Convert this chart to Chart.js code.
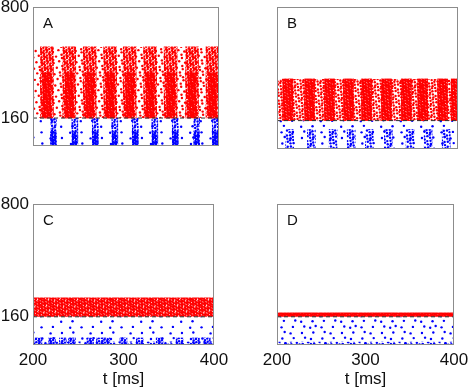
<!DOCTYPE html>
<html>
<head>
<meta charset="utf-8">
<script src="https://cdn.jsdelivr.net/npm/chart.js@4.4.0/dist/chart.umd.min.js"></script>
<style>
  html, body { margin: 0; padding: 0; background: #fff; width: 474px; height: 389px; overflow: hidden; position: relative; }
  canvas { position: absolute; }
</style>
</head>
<body>
<canvas id="cA" width="240" height="170" style="left:0;top:-10px"></canvas>
<canvas id="cB" width="244" height="170" style="left:240px;top:-10px"></canvas>
<canvas id="cC" width="240" height="205" style="left:0;top:185px"></canvas>
<canvas id="cD" width="244" height="205" style="left:240px;top:185px"></canvas>
<script>
// axes
const xTicks = [200, 300, 400];
const yTicks = [160, 800];
const split = 160;   // excitatory / inhibitory boundary (dashed line)

// A: strong synchronous bursts
const redTopA = 570;
const redCoreTopA = 420;
const redBurstA = [215, 239, 261, 283, 304, 326, 348, 371, 393];
const blueBurstA = [222, 245, 267, 288, 310, 331, 353, 376, 396];
const blueBurstTopA = 160;
const blueCoreTopA = 80;

// B: weaker bursts, lower band
const redTopB = 395;
const redBurstB = [212, 236, 258, 279, 299, 321, 343, 361, 383, 398];
const blueBurstB = [214, 238, 262, 282, 302, 323, 347, 367, 387];
const blueBurstTopB = 110;

// C: asynchronous
const redTopC = 270;
const blueBurstC = [206, 221, 233, 243, 263, 274, 281, 300, 318, 340, 362, 380, 392];
const blueBurstTopC = 40;
const blueFloorC = 20;

// D: sparse
const redTopD = 185;
const blueFloorD = 18;

const FONT = "'Liberation Sans', Arial, sans-serif";

// dotted fill so the bands look like spike rasters (style only)
function dots(color, n, r) {
  const S = 40;
  const c = document.createElement('canvas');
  c.width = S; c.height = S;
  const g = c.getContext('2d');
  g.fillStyle = color;
  for (let i = 0; i < n; i++) {
    const x = ((i * 0.7548776662) % 1) * S;
    const y = ((i * 0.5698402910) % 1) * S;
    for (const dx of [-S, 0, S]) for (const dy of [-S, 0, S]) {
      g.beginPath(); g.arc(x + dx, y + dy, r, 0, Math.PI * 2); g.fill();
    }
  }
  return g.createPattern(c, 'repeat');
}

const RED = '#ff0000', BLUE = '#0000ff';

function band(lo, hi, fillStyle) {
  return {
    type: 'line',
    data: [{x: xTicks[0], y: hi}, {x: xTicks[2], y: hi}],
    fill: {value: lo},
    backgroundColor: fillStyle,
    borderWidth: 0,
    pointRadius: 0,
    order: 3
  };
}

function bursts(times, lo, hi, fillStyle, thick) {
  return {
    type: 'bar',
    data: times.map(t => ({x: t, y: [lo, hi]})),
    backgroundColor: fillStyle,
    barThickness: thick,
    grouped: false,
    order: 2
  };
}

function dashed() {
  return {
    type: 'line',
    data: [{x: xTicks[0], y: split}, {x: xTicks[2], y: split}],
    borderColor: '#333',
    borderWidth: 1,
    borderDash: [4, 3],
    pointRadius: 0,
    fill: false,
    order: 1
  };
}

const frame = {
  id: 'frame',
  afterDraw(chart, args, opts) {
    const a = chart.chartArea, g = chart.ctx;
    g.save();
    g.strokeStyle = '#8c8c8c';
    g.lineWidth = 1;
    g.strokeRect(Math.round(a.left) + 0.5, Math.round(a.top) + 0.5,
                 Math.round(a.right - a.left) - 1, Math.round(a.bottom - a.top) - 1);
    g.fillStyle = '#111';
    g.font = '15px ' + FONT;
    g.textBaseline = 'alphabetic';
    g.fillText(opts.letter, a.left + 10, a.top + 21);
    g.restore();
  }
};

function panel(id, letter, datasets, showY, showX, pad) {
  new Chart(document.getElementById(id), {
    type: 'bar',
    data: {datasets: datasets},
    options: {
      responsive: false,
      animation: false,
      layout: {padding: pad},
      plugins: {
        legend: {display: false},
        tooltip: {enabled: false},
        frame: {letter: letter}
      },
      scales: {
        x: {
          type: 'linear',
          min: 200, max: 400,
          offset: false,
          display: showX,
          afterBuildTicks: s => { s.ticks = xTicks.map(v => ({value: v})); },
          afterFit: s => { if (showX) s.height = 45; },
          grid: {display: false, drawTicks: false},
          border: {display: false},
          ticks: {padding: 5, color: '#111', font: {family: FONT, size: 17}, maxRotation: 0},
          title: {display: true, text: 't [ms]', color: '#111', font: {family: FONT, size: 17}, padding: {top: 1, bottom: 0}}
        },
        y: {
          type: 'linear',
          min: 0, max: 800,
          display: showY,
          afterBuildTicks: s => { s.ticks = yTicks.map(v => ({value: v})); },
          afterFit: s => { if (showY) s.width = 33; },
          grid: {display: false, drawTicks: false},
          border: {display: false},
          ticks: {padding: 4, color: '#111', font: {family: FONT, size: 17}}
        }
      }
    },
    plugins: [frame]
  });
}

// panel A
panel('cA', 'A', [
  band(split, redTopA, dots(RED, 70, 1.2)),
  bursts(redBurstA, split, redTopA, dots(RED, 300, 1.2), 13),
  bursts(redBurstA, split, redCoreTopA, dots(RED, 500, 1.2), 8),
  band(0, split, dots(BLUE, 18, 1.2)),
  bursts(blueBurstA, 0, blueBurstTopA, dots(BLUE, 220, 1.2), 6),
  bursts(blueBurstA, 0, blueCoreTopA, dots(BLUE, 420, 1.2), 5),
  dashed()
], true, false, {left: 0, top: 17, right: 21, bottom: 11});

// panel B
panel('cB', 'B', [
  band(split, redTopB, dots(RED, 180, 1.2)),
  bursts(redBurstB, split, redTopB, dots(RED, 480, 1.2), 10),
  band(0, split, dots(BLUE, 26, 1.2)),
  bursts(blueBurstB, 0, blueBurstTopB, dots(BLUE, 170, 1.2), 8),
  dashed()
], false, false, {left: 37, top: 17, right: 26, bottom: 11});

// panel C
panel('cC', 'C', [
  band(split, redTopC, dots(RED, 430, 1.2)),
  band(0, split, dots(BLUE, 20, 1.2)),
  band(0, blueFloorC, dots(BLUE, 110, 1.2)),
  bursts(blueBurstC, 0, blueBurstTopC, dots(BLUE, 260, 1.2), 7),
  dashed()
], true, true, {left: 0, top: 19, right: 26, bottom: 0});

// panel D
panel('cD', 'D', [
  band(split, redTopD, dots(RED, 600, 1.2)),
  band(0, split, dots(BLUE, 30, 1.2)),
  band(0, blueFloorD, dots(BLUE, 110, 1.2)),
  dashed()
], false, true, {left: 37, top: 19, right: 30, bottom: 0});
</script>
</body>
</html>
